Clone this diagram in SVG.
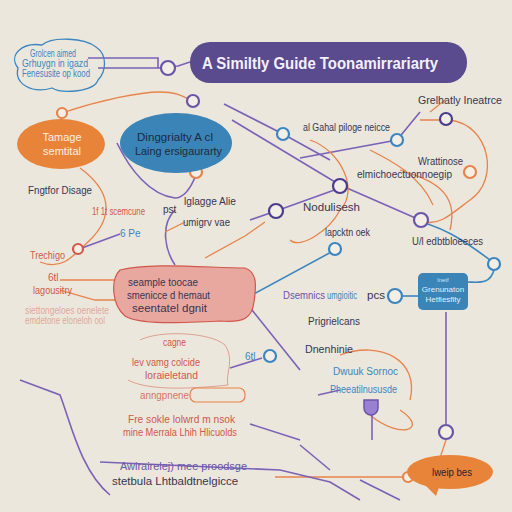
<svg xmlns="http://www.w3.org/2000/svg" width="512" height="512" viewBox="0 0 512 512">
<defs>
<style>
text{font-family:"Liberation Sans","DejaVu Sans",sans-serif}
.dk{fill:#3a3550;font-size:10px}
.rd{fill:#d2574a;font-size:10px}
.bl{fill:#3b86c0;font-size:10px}
.pu{fill:#6a55a8;font-size:10px}
.lp{fill:none;stroke:#7a62b8;stroke-width:1.6}
.lo{fill:none;stroke:#e8834a;stroke-width:1.3}
.lb{fill:none;stroke:#3b86c0;stroke-width:1.6}
.ring{fill:#f4efe6;stroke-width:2.2}
</style>
</defs>
<rect width="512" height="512" fill="#ebe7dc"/>
<g id="connectors">
<path class="lp" d="M88 58 H158 V68 H98"/>
<path class="lp" d="M158 68 L178 66 L190 62"/>
<path class="lo" d="M62 113 C100 100 140 92 160 92 C180 92 185 98 193 101"/>
<path class="lp" d="M224 104 L283 134 L330 160"/>
<path class="lp" d="M232 120 L340 185 L420 220"/>
<path class="lp" d="M300 158 L397 140 L420 112"/>
<path class="lo" d="M430 112 L445 100"/>
<path class="lo" d="M420 120 L450 120 C490 125 500 180 470 200 C450 215 440 225 425 222"/>
<path class="lo" d="M310 140 C340 150 360 190 340 210 C330 230 300 250 290 240"/>
<path class="lo" d="M400 170 C430 180 460 190 450 230"/>
<path class="lo" d="M433 205 C420 175 390 160 370 150"/>
<path class="lp" d="M250 220 L276 211 L340 188"/>
<path class="lb" d="M421 222 C450 230 470 245 494 263"/>
<path class="lb" d="M494 270 C490 285 478 282 467 282"/>
<path class="lb" d="M335 250 L250 296"/>
<path class="lb" d="M402 296 L418 296"/>
<path class="lp" d="M117 143 C130 170 150 195 175 198 C185 198 192 185 196 175"/>
<path class="lo" d="M80 168 C110 190 115 215 90 240 C70 260 60 270 40 262"/>
<path class="lp" d="M82 248 L120 234"/>
<path class="lp" d="M175 210 C160 225 165 250 175 265"/>
<path class="lo" d="M165 232 L185 222"/>
<path class="lo" d="M205 258 L245 236 L265 222"/>
<path class="lo" d="M60 280 L115 280"/>
<path class="lo" d="M60 290 L95 300 L115 300"/>
<path class="lp" d="M248 305 L300 370"/>
<path class="lp" d="M230 368 L262 358"/>
<path class="lp" d="M20 380 L60 395 C70 420 80 470 110 495"/>
<path class="lp" d="M300 445 L330 470"/>
<path class="lp" d="M446 312 V424"/>
<path class="lo" d="M446 440 L440 458"/>
<path class="lo" d="M403 477 L275 477"/>
<path class="lp" d="M100 462 L280 470 L330 482 L360 500"/>
<path class="lp" d="M250 424 L300 440"/>
<path class="lo" d="M400 410 C430 430 400 440 370 415"/>
<path class="lo" d="M340 355 C380 340 420 360 410 400"/>
<path class="lp" d="M372 412 L372 440"/>
<path class="lp" d="M340 390 L318 395"/>
<path class="lp" d="M360 480 L400 500"/>
</g>
<g id="title">
<rect x="190" y="42" width="277" height="41" rx="20" fill="#5a4a8e"/>
<text x="202" y="69" fill="#f4f0ff" font-size="16" font-weight="600" textLength="236" lengthAdjust="spacingAndGlyphs">A Similtly Guide Toonamirrariarty</text>
</g>
<g id="cloud">
<path d="M18 68 C8 55 22 42 42 45 C52 36 85 38 96 47 C108 55 106 72 98 80 C94 92 62 94 52 88 C32 94 14 84 18 68 Z" fill="none" stroke="#3b86c0" stroke-width="1.3"/>
<text class="bl" x="30" y="57" font-size="8" textLength="46" lengthAdjust="spacingAndGlyphs">Grolcen aimed</text>
<text class="bl" x="22" y="67" font-size="8" textLength="66" lengthAdjust="spacingAndGlyphs">Grhuygn in igazd</text>
<text class="bl" x="22" y="77" font-size="8" textLength="68" lengthAdjust="spacingAndGlyphs">Fenesusite op kood</text>
</g>
<g id="rings">
<circle class="ring" cx="168" cy="68" r="7" stroke="#6a55a8"/>
<circle class="ring" cx="193" cy="101" r="6" stroke="#6a55a8"/>
<circle class="ring" cx="62" cy="113" r="5" stroke="#e8834a"/>
<circle class="ring" cx="283" cy="134" r="6" stroke="#3b86c0"/>
<circle class="ring" cx="397" cy="140" r="6" stroke="#3b86c0"/>
<circle class="ring" cx="446" cy="119" r="6" stroke="#4a3c8e"/>
<circle class="ring" cx="340" cy="186" r="7" stroke="#4a3c8e"/>
<circle class="ring" cx="470" cy="172" r="6" stroke="#e8834a"/>
<circle class="ring" cx="276" cy="211" r="7" stroke="#4a3c8e"/>
<circle class="ring" cx="421" cy="220" r="7" stroke="#6a55a8"/>
<circle class="ring" cx="494" cy="264" r="6" stroke="#3b86c0"/>
<circle class="ring" cx="335" cy="249" r="6" stroke="#3b86c0"/>
<circle class="ring" cx="395" cy="296" r="7" stroke="#3b86c0"/>
<circle class="ring" cx="78" cy="249" r="5" stroke="#d2574a"/>
<circle class="ring" cx="196" cy="172" r="6" stroke="#e8834a"/>
<circle class="ring" cx="238" cy="309" r="6" stroke="#6a55a8"/>
<circle class="ring" cx="270" cy="356" r="6" stroke="#3b86c0"/>
<circle class="ring" cx="446" cy="432" r="7" stroke="#6a55a8"/>
<circle class="ring" cx="408" cy="477" r="5" stroke="#e8834a"/>
<path d="M364 400 H378 V408 A7 7 0 0 1 364 408 Z" fill="#9a80d0" stroke="#6a55a8" stroke-width="1.5"/>
</g>
<g id="orange-node">
<ellipse cx="61" cy="144" rx="44" ry="25" fill="#e8843a"/>
<text x="62" y="141" text-anchor="middle" fill="#fbeee0" font-size="11">Tamage</text>
<text x="62" y="155" text-anchor="middle" fill="#fbeee0" font-size="11">semtital</text>
</g>
<g id="blue-node">
<ellipse cx="176" cy="143" rx="56" ry="30" fill="#3a84b8"/>
<text x="137" y="141" fill="#1e2a40" font-size="11" textLength="76" lengthAdjust="spacingAndGlyphs">Dinggrialty A cl</text>
<text x="135" y="155" fill="#1e2a40" font-size="11" textLength="87" lengthAdjust="spacingAndGlyphs">Laing ersigaurarty</text>
</g>
<g id="labels">
<text class="dk" x="28" y="194" font-size="11" textLength="64" lengthAdjust="spacingAndGlyphs">Fngtfor Disage</text>
<text class="rd" x="92" y="215" textLength="53" lengthAdjust="spacingAndGlyphs">1f 1t scemcune</text>
<text class="dk" x="163" y="213" font-size="9">pst</text>
<text class="bl" x="120" y="237" font-size="8">6 Pe</text>
<text class="dk" x="184" y="205" textLength="52" lengthAdjust="spacingAndGlyphs">lglagge Alie</text>
<text class="dk" x="183" y="226" font-size="9" textLength="47" lengthAdjust="spacingAndGlyphs">umigrv vae</text>
<text class="dk" x="303" y="211" font-size="9" textLength="57" lengthAdjust="spacingAndGlyphs">Nodulisesh</text>
<text class="dk" x="325" y="236" textLength="45" lengthAdjust="spacingAndGlyphs">lapcktn oek</text>
<text class="dk" x="412" y="245" textLength="71" lengthAdjust="spacingAndGlyphs">U/l edbtbloeeces</text>
<text class="dk" x="418" y="104" textLength="84" lengthAdjust="spacingAndGlyphs">Grelhatly Ineatrce</text>
<text class="dk" x="303" y="131" textLength="87" lengthAdjust="spacingAndGlyphs">al Gahal piloge neicce</text>
<text class="dk" x="418" y="165" textLength="45" lengthAdjust="spacingAndGlyphs">Wrattinose</text>
<text class="dk" x="357" y="178" font-size="9.5" textLength="95" lengthAdjust="spacingAndGlyphs">elmichoectuonnoegip</text>
<text class="rd" x="30" y="259" textLength="35" lengthAdjust="spacingAndGlyphs">Trechigo</text>
<text class="rd" x="48" y="281">6tl</text>
<text class="rd" x="33" y="294" textLength="39" lengthAdjust="spacingAndGlyphs">lagousitry</text>
<text class="rd" x="25" y="314" font-size="8" opacity="0.45" textLength="84" lengthAdjust="spacingAndGlyphs">siettongeloes oenelete</text>
<text class="rd" x="25" y="324" font-size="8" opacity="0.45" textLength="80" lengthAdjust="spacingAndGlyphs">emdetone eloneloh ool</text>
<text class="pu" x="283" y="299" textLength="42" lengthAdjust="spacingAndGlyphs">Dsemnics</text>
<text class="bl" x="327" y="299" font-size="9" textLength="30" lengthAdjust="spacingAndGlyphs">umgioitic</text>
<text class="dk" x="367" y="299" textLength="18" lengthAdjust="spacingAndGlyphs">pcs</text>
<text class="dk" x="308" y="325" textLength="52" lengthAdjust="spacingAndGlyphs">Prigrielcans</text>
<text class="dk" x="305" y="353" font-size="11" textLength="48" lengthAdjust="spacingAndGlyphs">Dnenhinie</text>
<text class="bl" x="333" y="375" textLength="65" lengthAdjust="spacingAndGlyphs">Dwuuk Sornoc</text>
<text class="bl" x="330" y="393" textLength="67" lengthAdjust="spacingAndGlyphs">Pheeatilnususde</text>
<text class="bl" x="245" y="360" font-size="8">6tl</text>
<text class="rd" x="163" y="346" font-size="9" textLength="23" lengthAdjust="spacingAndGlyphs">cagne</text>
<text class="rd" x="132" y="366" font-size="11" textLength="68" lengthAdjust="spacingAndGlyphs">lev vamg colcide</text>
<text class="rd" x="145" y="379" font-size="11" textLength="53" lengthAdjust="spacingAndGlyphs">loraieletand</text>
<text class="rd" x="140" y="399" font-size="10" opacity="0.8" textLength="49" lengthAdjust="spacingAndGlyphs">anngpnene</text>
<text class="rd" x="128" y="423" font-size="11" textLength="107" lengthAdjust="spacingAndGlyphs">Fre sokle lolwrd m nsok</text>
<text class="rd" x="123" y="436" font-size="11" textLength="114" lengthAdjust="spacingAndGlyphs">mine Merrala Lhih Hlicuolds</text>
<text class="pu" x="120" y="470" font-size="12" textLength="127" lengthAdjust="spacingAndGlyphs">Awirairelej) mee proodsge</text>
<text class="dk" x="112" y="485" font-size="12" textLength="126" lengthAdjust="spacingAndGlyphs">stetbula Lhtbaldtnelgicce</text>
</g>
<g id="pink-node">
<path d="M120 270 C150 262 210 268 245 268 C258 272 256 288 254 302 C252 318 244 323 220 321 C180 323 140 325 125 316 C112 305 110 280 120 270 Z" fill="#e8a8a0" stroke="#d2574a" stroke-width="1.2"/>
<text class="dk" x="128" y="286" font-size="11" textLength="70" lengthAdjust="spacingAndGlyphs">seample toocae</text>
<text class="dk" x="127" y="299" font-size="11" textLength="83" lengthAdjust="spacingAndGlyphs">smenicce d hemaut</text>
<text class="dk" x="132" y="312" font-size="11" textLength="75" lengthAdjust="spacingAndGlyphs">seentatel dgnit</text>
</g>
<g id="outlines">
<path d="M140 340 C160 330 210 332 225 345 C235 360 225 375 228 385 C200 388 150 392 128 380" fill="none" stroke="#d2574a" stroke-width="1" opacity="0.5"/>
<rect x="190" y="388" width="55" height="14" rx="6" fill="none" stroke="#e8834a" stroke-width="1.2"/>
</g>
<g id="blue-box">
<rect x="418" y="273" width="50" height="37" rx="5" fill="#3a84b8"/>
<text x="443" y="282" text-anchor="middle" fill="#cfe3f2" font-size="6">lnetf</text>
<text x="443" y="292" text-anchor="middle" fill="#e4eff8" font-size="8">Grenunaton</text>
<text x="443" y="302" text-anchor="middle" fill="#e4eff8" font-size="8">Hetfiesfity</text>
</g>
<g id="bubble">
<path d="M420 480 L436 496 L440 484 Z" fill="#e8843a"/>
<ellipse cx="450" cy="472" rx="43" ry="17" fill="#e8843a"/>
<text x="432" y="476" font-size="11" fill="#2a2030" textLength="40" lengthAdjust="spacingAndGlyphs">lweip bes</text>
</g>
</svg>
